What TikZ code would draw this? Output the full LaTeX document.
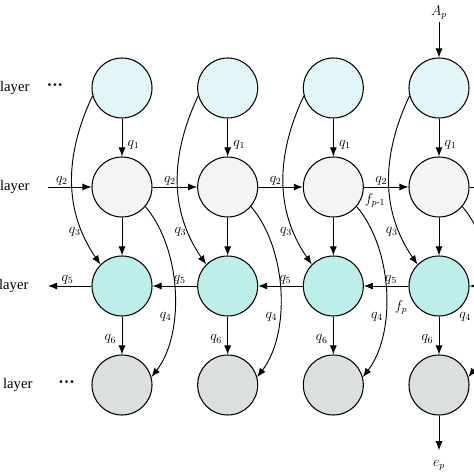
\documentclass[tikz,border=0pt]{standalone}
\usepackage{amsmath}
\usepackage{fontspec}
\setmainfont{Liberation Serif}
\usetikzlibrary{arrows.meta}
\definecolor{topcyan}{HTML}{E2F6F7}
\definecolor{midgray}{HTML}{F3F4F4}
\definecolor{outcyan}{HTML}{BDEEEA}
\definecolor{lowgray}{HTML}{DCDFDF}

\begin{document}
\begin{tikzpicture}[>={Latex[length=2.7mm,width=2.1mm]}, line width=0.8pt,
    unit/.style={circle,draw,line width=0.9pt,minimum size=1.8cm,inner sep=0pt},
    lbl/.style={font=\fontsize{12}{14}\selectfont,inner sep=1.5pt},
    side/.style={font=\fontsize{12.5}{14}\selectfont,inner sep=1.5pt,anchor=east}]

\useasboundingbox (0,0) rectangle (14.22,14.22);

% units, one row per layer
\node[unit,fill=topcyan] (A1) at (3.66, 11.58) {};
\node[unit,fill=topcyan] (A2) at (6.83, 11.58) {};
\node[unit,fill=topcyan] (A3) at (10.0, 11.58) {};
\node[unit,fill=topcyan] (A4) at (13.17, 11.58) {};

\node[unit,fill=midgray] (B1) at (3.66, 8.61) {};
\node[unit,fill=midgray] (B2) at (6.83, 8.61) {};
\node[unit,fill=midgray] (B3) at (10.0, 8.61) {};
\node[unit,fill=midgray] (B4) at (13.17, 8.61) {};

\node[unit,fill=outcyan] (C1) at (3.66, 5.64) {};
\node[unit,fill=outcyan] (C2) at (6.83, 5.64) {};
\node[unit,fill=outcyan] (C3) at (10.0, 5.64) {};
\node[unit,fill=outcyan] (C4) at (13.17, 5.64) {};

\node[unit,fill=lowgray] (D1) at (3.66, 2.67) {};
\node[unit,fill=lowgray] (D2) at (6.83, 2.67) {};
\node[unit,fill=lowgray] (D3) at (10.0, 2.67) {};
\node[unit,fill=lowgray] (D4) at (13.17, 2.67) {};

% layer names on the left
\node[side] (t1) at (0.95, 11.58) {layer};
\node[side] (t2) at (0.95, 8.61) {layer};
\node[side] (t3) at (0.92, 5.64) {layer};
\node[side] (t4) at (1.04, 2.67) {layer};
\node[lbl,font=\fontsize{14}{16}\selectfont\bfseries] (dots1) at (1.65, 11.6) {···};
\node[lbl,font=\fontsize{14}{16}\selectfont\bfseries] (dots4) at (2.0, 2.7) {···};

% free ends
\coordinate (in2) at (1.44, 8.61);
\coordinate (out2) at (15.5, 8.61);
\coordinate (out5) at (1.44, 5.64);
\coordinate (in5) at (15.5, 5.64);

% q1
\draw[->] (A1) -- node[lbl,pos=0.7,right=3pt] (q1a) {$q_1$} (B1);
\draw[->] (A2) -- node[lbl,pos=0.7,right=3pt] (q1b) {$q_1$} (B2);
\draw[->] (A3) -- node[lbl,pos=0.7,right=3pt] (q1c) {$q_1$} (B3);
\draw[->] (A4) -- node[lbl,pos=0.7,right=3pt] (q1d) {$q_1$} (B4);

% q2
\draw[->] (in2) -- node[lbl,pos=0.32,above] (q2a) {$q_2$} (B1);
\draw[->] (B1) -- node[lbl,pos=0.39,above] (q2b) {$q_2$} (B2);
\draw[->] (B2) -- node[lbl,pos=0.39,above] (q2c) {$q_2$} (B3);
\draw[->] (B3) -- node[lbl,pos=0.39,above] (q2d) {$q_2$} (B4);
\draw[->] (B4) -- (out2);

% hidden to output
\draw[->] (B1) -- (C1);
\draw[->] (B2) -- (C2);
\draw[->] (B3) -- (C3);
\draw[->] (B4) -- (C4);

% q3
\draw[->] (A1.195) .. controls +(-0.85,-1.8) and +(-1.1,1.6) .. node[lbl,pos=0.8,left] (q3a) {$q_3$} (C1.135);
\draw[->] (A2.195) .. controls +(-0.85,-1.8) and +(-1.1,1.6) .. node[lbl,pos=0.8,left] (q3b) {$q_3$} (C2.135);
\draw[->] (A3.195) .. controls +(-0.85,-1.8) and +(-1.1,1.6) .. node[lbl,pos=0.8,left] (q3c) {$q_3$} (C3.135);
\draw[->] (A4.195) .. controls +(-0.85,-1.8) and +(-1.1,1.6) .. node[lbl,pos=0.8,left] (q3d) {$q_3$} (C4.135);

% q4
\draw[->] (B1.-40) .. controls +(1.1,-1.3) and +(1.0,1.3) .. node[lbl,pos=0.63,left] (q4a) {$q_4$} (D1.15);
\draw[->] (B2.-40) .. controls +(1.1,-1.3) and +(1.0,1.3) .. node[lbl,pos=0.63,left] (q4b) {$q_4$} (D2.15);
\draw[->] (B3.-40) .. controls +(1.1,-1.3) and +(1.0,1.3) .. node[lbl,pos=0.63,left] (q4c) {$q_4$} (D3.15);
\draw[->] (B4.-40) .. controls +(1.1,-1.3) and +(1.0,1.3) .. node[lbl,pos=0.63,left=15pt] (q4d) {$q_4$} (D4.15);

% q5
\draw[->] (C1) -- node[lbl,pos=0.55,above] (q5a) {$q_5$} (out5);
\draw[->] (C2) -- node[lbl,pos=0.39,above] (q5b) {$q_5$} (C1);
\draw[->] (C3) -- node[lbl,pos=0.39,above] (q5c) {$q_5$} (C2);
\draw[->] (C4) -- node[lbl,pos=0.39,above] (q5d) {$q_5$} (C3);
\draw[->] (in5) -- (C4);

% q6
\draw[->] (C1) -- node[lbl,pos=0.6,left=3pt] (q6a) {$q_6$} (D1);
\draw[->] (C2) -- node[lbl,pos=0.6,left=3pt] (q6b) {$q_6$} (D2);
\draw[->] (C3) -- node[lbl,pos=0.6,left=3pt] (q6c) {$q_6$} (D3);
\draw[->] (C4) -- node[lbl,pos=0.6,left=3pt] (q6d) {$q_6$} (D4);

% input and output of the last column
\node[lbl] (Ap) at (13.17, 13.84) {$A_p$};
\node[lbl] (ep) at (13.17, 0.25) {$e_p$};
\draw[->] (Ap) -- (A4);
\draw[->, shorten >=7pt] (D4) -- (ep);

\node[lbl] (fp1) at (11.25, 8.2) {$f_{p\text{-}1}$};
\node[lbl] (fp) at (12.03, 5.0) {$f_p$};

\end{tikzpicture}
\end{document}
